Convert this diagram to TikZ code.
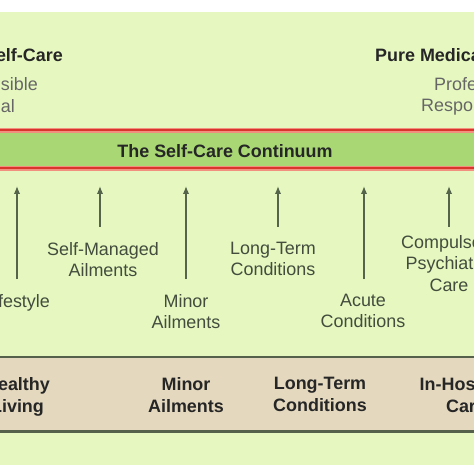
\documentclass[tikz,border=0pt]{standalone}
\usepackage{fontspec}
\setmainfont{Liberation Sans}
\usepackage{tikz}
\usepackage{xcolor}
\usetikzlibrary{arrows.meta}

\definecolor{bgGreen}{HTML}{E6F8C0}
\definecolor{bandGreen}{HTML}{A8D774}
\definecolor{lineRed}{HTML}{D9352C}
\definecolor{haloRed}{HTML}{F2907F}
\definecolor{tanFill}{HTML}{E4D8BE}
\definecolor{edgeGray}{HTML}{56614C}
\definecolor{arrowGray}{HTML}{55654B}
\definecolor{textGray}{HTML}{434C3D}

\begin{document}
\begin{tikzpicture}[x=1bp,y=-1bp,
  txt/.style={inner sep=0pt,font=\fontsize{18}{21.5}\selectfont,text=textGray,align=center},
  head/.style={inner sep=0pt,font=\fontsize{18}{22}\selectfont\bfseries,text=black!85,align=center},
  up/.style={draw=arrowGray,line width=1.5bp,-{Latex[length=8bp,width=6.5bp]}}]
\useasboundingbox (0,0) rectangle (474,474);
\clip (0,0) rectangle (474,474);
\fill[white] (0,0) rectangle (474,474);
\fill[bgGreen] (-2,12) rectangle (476,465);
% the continuum band
\fill[bandGreen] (-2,130) rectangle (476,169);
\draw[haloRed,line width=4.5bp] (-2,130.5)--(476,130.5);
\draw[lineRed,line width=2bp] (-2,130.5)--(476,130.5);
\draw[haloRed,line width=4.5bp] (-2,168.5)--(476,168.5);
\draw[lineRed,line width=2bp] (-2,168.5)--(476,168.5);
\node[head,anchor=base] (title) at (225,158) {The Self-Care Continuum};
% the two ends
\node[head,anchor=base east] (selfcare) at (63,62) {Pure Self-Care};
\node[txt,anchor=base east,text=black!60] (respL) at (38,91) {Responsible};
\node[txt,anchor=base east,text=black!60] (indiv) at (15,113) {Individual};
\node[head,anchor=base west] (medical) at (375,62) {Pure Medical Care};
\node[txt,anchor=base west,text=black!60] (prof) at (434,91) {Professional};
\node[txt,anchor=base west,text=black!60] (respR) at (421,112) {Responsibility};
% labels under the band
\node[txt,anchor=north] (lifestyle) at (17,294) {Lifestyle};
\node[txt,anchor=north] (selfman) at (103,242) {Self-Managed\\Ailments};
\node[txt,anchor=north] (minor) at (186,294) {Minor\\Ailments};
\node[txt,anchor=north] (longterm) at (273,242) {Long-Term\\Conditions};
\node[txt,anchor=north] (acute) at (363,294) {Acute\\Conditions};
\node[txt,anchor=north] (compuls) at (449,235) {Compulsory\\Psychiatric\\Care};
\coordinate (t1) at (17,186);
\coordinate (t2) at (100,186);
\coordinate (t3) at (186,186);
\coordinate (t4) at (278,186);
\coordinate (t5) at (364,186);
\coordinate (t6) at (449,186);
\draw[up,shorten <=15bp] (lifestyle.north) -- (t1);
\draw[up,shorten <=15bp] (selfman.north -| t2) -- (t2);
\draw[up,shorten <=15bp] (minor.north) -- (t3);
\draw[up,shorten <=15bp] (longterm.north -| t4) -- (t4);
\draw[up,shorten <=15bp] (acute.north -| t5) -- (t5);
\draw[up,shorten <=8bp] (compuls.north) -- (t6);
% the settings band
\fill[tanFill] (-2,357) rectangle (476,431);
\draw[edgeGray,line width=2.5bp] (-2,357)--(476,357);
\draw[edgeGray,line width=2.5bp] (-2,431.5)--(476,431.5);
\node[head,anchor=north] (healthy) at (17.5,377) {Healthy\\Living};
\node[head,anchor=north] (minorB) at (186,377) {Minor\\Ailments};
\node[head,anchor=north] (longB) at (320,377) {Long-Term\\Conditions};
\node[head,anchor=north] (hospital) at (466,377) {In-Hospital\\Care};
\end{tikzpicture}
\end{document}
